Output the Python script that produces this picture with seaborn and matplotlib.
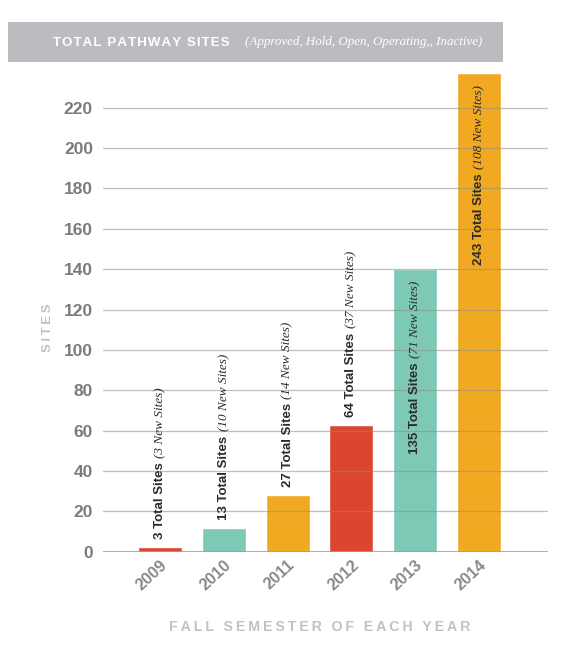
import matplotlib
matplotlib.use('Agg')
import matplotlib.pyplot as plt
import matplotlib.transforms as mtransforms
from matplotlib.patches import Rectangle
import seaborn as sns
import pandas as pd

# values
years = ['2009', '2010', '2011', '2012', '2013', '2014']
bar_heights = [2.5, 12, 28, 63, 140, 237]
total_sites = [3, 13, 27, 64, 135, 243]
new_sites = [3, 10, 14, 37, 71, 108]
bar_colors = ['#DA4630', '#7EC8B6', '#F1A922', '#DA4630', '#7EC8B6', '#F1A922']
label_inside = [False, False, False, False, True, True]
yticks = list(range(0, 221, 20))

df = pd.DataFrame({'year': years, 'sites': bar_heights})

sns.set_style('white')
plt.rcParams['font.family'] = ['Liberation Sans', 'DejaVu Sans']

SANS = ['Liberation Sans', 'DejaVu Sans']
SERIF = ['Liberation Serif', 'DejaVu Serif']


def spaced(s, sep='\u200a'):
    # fake letter spacing
    return sep.join(s)


fig = plt.figure(figsize=(5.69, 6.53), dpi=100)
ax = fig.add_axes([0.1805, 0.155, 0.782, 0.742])

sns.barplot(data=df, x='year', y='sites', hue='year', palette=bar_colors,
            width=0.69, legend=False, saturation=1, ax=ax)

ax.set_xlim(-0.9, 6.08)
ax.set_ylim(0, 240)
ax.set_yticks(yticks)
ax.set_yticklabels([str(v) for v in yticks])
for s in ax.spines.values():
    s.set_visible(False)
ax.set_axisbelow(False)
ax.yaxis.grid(True, color='#8c8c8c', alpha=0.55, lw=0.9)
ax.xaxis.grid(False)
ax.axhline(0, color='#9a9a9a', lw=1.1, zorder=3)
ax.tick_params(axis='both', length=0)
ax.tick_params(axis='y', pad=7, labelsize=12.5, labelcolor='#7b7b7b')
ax.tick_params(axis='x', pad=4, labelsize=11.8, labelcolor='#8a8a8a')
for t in ax.get_yticklabels():
    t.set_fontweight('bold')
for t in ax.get_xticklabels():
    t.set_fontweight('bold')
    t.set_rotation(43)
    t.set_ha('right')
    t.set_rotation_mode('anchor')
ax.set_xlabel('')
ax.set_ylabel('')

fig.text(320 / 569, 1 - 627 / 653, spaced('FALL SEMESTER OF EACH YEAR', '\u2009'),
         ha='center', va='center', fontsize=10.2, fontweight='bold',
         color='#c2c2c2', family=SANS)
fig.text(48 / 569, 1 - 328 / 653, spaced('SITES', '\u2009'), rotation=90,
         ha='center', va='center', fontsize=9.5, fontweight='bold',
         color='#c2c2c2', family=SANS)

# title band
fig.add_artist(Rectangle((8 / 569, 1 - 62 / 653), 495 / 569, 40 / 653,
                         transform=fig.transFigure, color='#BBBCBF', lw=0))
fig.text(53 / 569, 1 - 45.5 / 653, spaced('TOTAL PATHWAY SITES'),
         ha='left', va='baseline', fontsize=9.5, fontweight='bold',
         color='white', family=SANS)
fig.text(245 / 569, 1 - 45.5 / 653, '(Approved, Hold, Open, Operating,, Inactive)',
         ha='left', va='baseline', fontsize=9.4, style='italic',
         color='white', family=SERIF)

# rotated bar labels: bold sans part + italic serif part
fig.canvas.draw()
renderer = fig.canvas.get_renderer()
for i in range(len(years)):
    bold = ax.text(i, 0, f'{total_sites[i]} Total Sites', rotation=90,
                   ha='center', va='bottom', fontsize=9.5, fontweight='bold',
                   color='#2b2b2b', family=SANS, zorder=4)
    ital = ax.text(i, 0, f'({new_sites[i]} New Sites)', rotation=90,
                   ha='center', va='bottom', fontsize=9.5, style='italic',
                   color='#2b2b2b', family=SERIF, zorder=4)
    hb = bold.get_window_extent(renderer).height
    hi = ital.get_window_extent(renderer).height
    gap = 4
    top_px = ax.transData.transform((i, bar_heights[i]))[1]
    base_px = ax.transData.transform((i, 0))[1]
    if label_inside[i]:
        start = top_px - 12 - (hb + gap + hi)
    else:
        start = top_px + 8
    bold.set_transform(mtransforms.offset_copy(ax.transData, fig, x=0,
                                               y=start - base_px, units='dots'))
    ital.set_transform(mtransforms.offset_copy(ax.transData, fig, x=0,
                                               y=start - base_px + hb + gap, units='dots'))

fig.savefig('out.png', dpi=100)
